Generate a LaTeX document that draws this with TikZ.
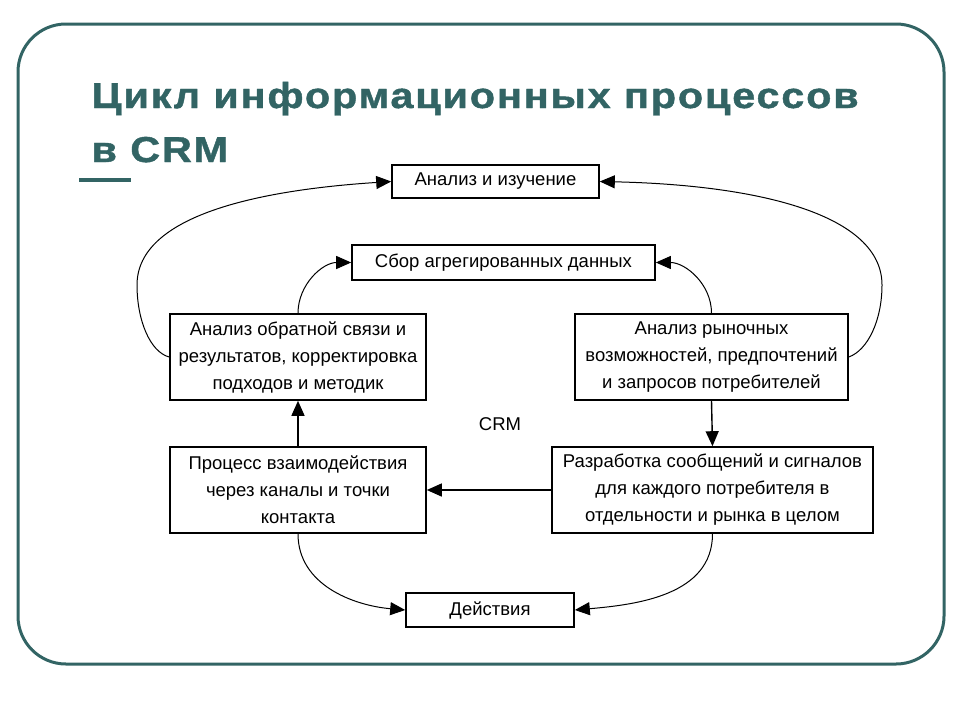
\documentclass[tikz,border=0pt]{standalone}
\usepackage{fontspec}
\setmainfont{Liberation Sans}
\newfontfamily\titlefont[FakeStretch=1.15,LetterSpace=5,FakeBold=1.2]{Liberation Sans}
\usetikzlibrary{arrows.meta,positioning}
\definecolor{slideteal}{RGB}{50,100,100}

\begin{document}
\begin{tikzpicture}[x=1pt,y=-1pt,
    block/.style={rectangle,draw=black,line width=1.6pt,fill=white,align=center,inner sep=0pt,font=\fontsize{18.5}{27}\selectfont},
    flow/.style={line width=1pt,-{Triangle[length=15pt,width=13pt]}},
    heading/.style={anchor=base west,text=slideteal,font=\titlefont\fontsize{36}{42}\selectfont\bfseries},
    every node/.style={node distance=2.5em}
    ]
    \useasboundingbox (0,0) rectangle (960,720);
    % slide frame and title
    \draw[slideteal, line width=3pt, rounded corners=48pt] (18,24) rectangle (944,664);
    \node[heading] (title1) at (88,108) {Цикл информационных процессов};
    \node[heading] (title2) at (88,162) {в CRM};
    \draw[slideteal, line width=4.5pt] (79,180) -- (131,180);
    
    % the blocks of the cycle
    \node[block, minimum width=207pt, minimum height=33pt] (study) at (495.5,181.5) {Анализ и изучение};
    \node[block, minimum width=303pt, minimum height=35pt] (collect) at (503.5,262.5) {Сбор агрегированных данных};
    \node[block, minimum width=256pt, minimum height=86pt] (feedback) at (298,357) {Анализ обратной связи и\\результатов, корректировка\\подходов и методик};
    \node[block, minimum width=273pt, minimum height=86pt] (market) at (711.5,357) {Анализ рыночных\\возможностей, предпочтений\\и запросов потребителей};
    \node[block, minimum width=256pt, minimum height=86pt] (contact) at (298,490) {Процесс взаимодействия\\через каналы и точки\\контакта};
    \node[block, minimum width=321pt, minimum height=86pt] (message) at (712.5,490) {Разработка сообщений и сигналов\\для каждого потребителя в\\отдельности и рынка в целом};
    \node[block, minimum width=168pt, minimum height=34pt] (action) at (490,610) {Действия};
    \node[font=\fontsize{18.5}{22}\selectfont] (crm) at (500,424) {CRM};
    
    % straight arrows
    \path[every edge/.style={draw, flow, line width=1.4pt}]
    (market.south) edge (message.north)
    (message.west) edge (contact.east)
    (contact.north) edge (feedback.south)
    ;
    
    % curved arrows
    \path[every edge/.style={draw, flow}]
    (feedback.north) edge[out=90, in=180] (collect.west)
    (market.north) edge[out=90, in=0] (collect.east)
    (contact.south) edge[out=270, in=175] (action.west)
    (message.south) edge[out=270, in=5] (action.east)
    ;
    \draw[flow] (feedback.west) .. controls (150,352) and (137,320) .. (137,285)
        .. controls (137,215) and (260,190) .. (study.west);
    \draw[flow] (market.east) .. controls (868,350) and (882,320) .. (882,285)
        .. controls (882,215) and (760,185) .. (study.east);
    
\end{tikzpicture}
\end{document}
